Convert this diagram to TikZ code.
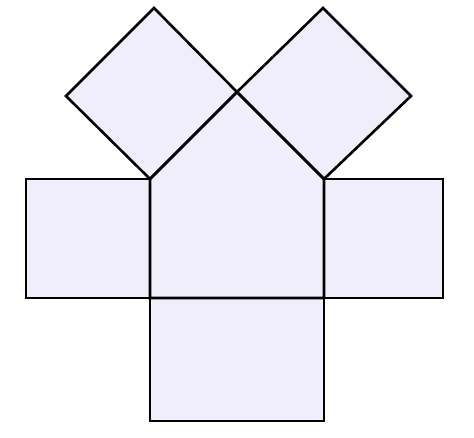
\documentclass[tikz,border=0pt]{standalone}
\definecolor{facefill}{HTML}{F0EEFB}
\begin{document}
\begin{tikzpicture}[x=1pt,y=-1pt,
  face/.style={draw=black,line width=2.6pt,line join=miter}]
\useasboundingbox (0,0) rectangle (474,437);
% pentagon vertices
\coordinate (A) at (150,179);
\coordinate (B) at (324,179);
\coordinate (C) at (324,298);
\coordinate (D) at (150,298);
\coordinate (E) at (237,92);
% left diamond
\coordinate (L1) at (66,96);
\coordinate (L2) at (154,8);
% right diamond
\coordinate (R1) at (323,8);
\coordinate (R2) at (411,96);
% side rectangles
\coordinate (P1) at (26,179);
\coordinate (P2) at (26,298);
\coordinate (Q1) at (443,179);
\coordinate (Q2) at (443,298);
% bottom square
\coordinate (S1) at (150,421);
\coordinate (S2) at (324,421);
% fills
\foreach \poly in {{(A)--(E)--(B)--(C)--(D)},{(A)--(L1)--(L2)--(E)},{(E)--(R1)--(R2)--(B)},{(P1)--(A)--(D)--(P2)},{(B)--(Q1)--(Q2)--(C)},{(D)--(C)--(S2)--(S1)}}
  \fill[facefill] \poly -- cycle;
% outlines
\draw[face] (A)--(E)--(B)--(C)--(D)--cycle;
\draw[face] (A)--(L1)--(L2)--(E)--cycle;
\draw[face] (E)--(R1)--(R2)--(B)--cycle;
\draw[face] (P1)--(A)--(D)--(P2)--cycle;
\draw[face] (B)--(Q1)--(Q2)--(C)--cycle;
\draw[face] (D)--(C)--(S2)--(S1)--cycle;
\end{tikzpicture}
\end{document}
